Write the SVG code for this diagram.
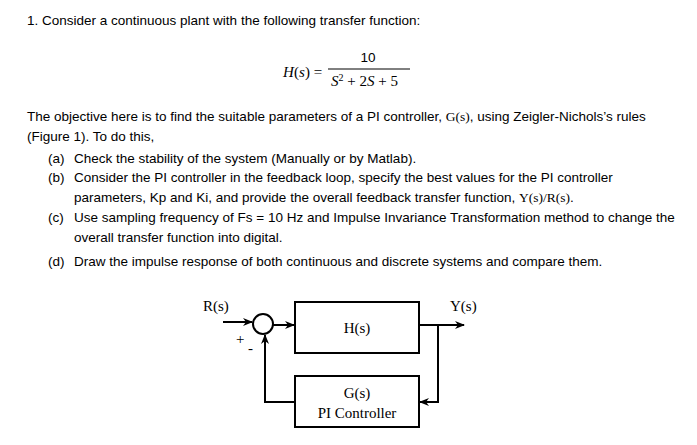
<svg xmlns="http://www.w3.org/2000/svg" width="697" height="445" viewBox="0 0 697 445">
<style>
.t{font-family:"Liberation Sans",Arial,sans-serif;font-size:13.5px;fill:#000}
.m{font-family:"Liberation Serif",serif;font-size:15px;fill:#000}
.box{fill:#fff;stroke:#000;stroke-width:2}
.ln{fill:none;stroke:#000;stroke-width:2}
</style>
<defs><marker id="a" markerWidth="10" markerHeight="8" refX="9" refY="4" orient="auto" markerUnits="userSpaceOnUse"><path d="M0,0 L10,4 L0,8 L3,4Z" fill="#000"/></marker></defs>
<rect width="697" height="445" fill="#fff"/>
<text class="t" x="27" y="25">1. Consider a continuous plant with the following transfer function:</text>
<text class="m" x="283" y="77" font-style="italic">H</text><text class="m" x="294" y="77">(</text><text class="m" x="299" y="77" font-style="italic">s</text><text class="m" x="305" y="77">) =</text>
<text class="t" x="368" y="62" text-anchor="middle">10</text>
<line x1="328" y1="69" x2="410" y2="69" stroke="#000" stroke-width="1"/>
<text class="m" x="331" y="86"><tspan font-style="italic">S</tspan><tspan font-size="10" dy="-5">2</tspan><tspan dy="5"> + 2</tspan><tspan font-style="italic">S</tspan> + 5</text>
<text class="t" x="27" y="121">The objective here is to find the suitable parameters of a PI controller, <tspan font-family="Liberation Serif">G(s)</tspan>, using Zeigler-Nichols’s rules</text>
<text class="t" x="27" y="141">(Figure 1). To do this,</text>
<text class="t" x="48" y="163">(a)</text><text class="t" x="74" y="163">Check the stability of the system (Manually or by Matlab).</text>
<text class="t" x="48" y="182">(b)</text><text class="t" x="74" y="182">Consider the PI controller in the feedback loop, specify the best values for the PI controller</text>
<text class="t" x="74" y="202">parameters, Kp and Ki, and provide the overall feedback transfer function, <tspan font-family="Liberation Serif">Y(s)/R(s)</tspan>.</text>
<text class="t" x="48" y="222">(c)</text><text class="t" x="74" y="222">Use sampling frequency of Fs = 10 Hz and Impulse Invariance Transformation method to change the</text>
<text class="t" x="74" y="242">overall transfer function into digital.</text>
<text class="t" x="48" y="266">(d)</text><text class="t" x="74" y="266">Draw the impulse response of both continuous and discrete systems and compare them.</text>
<g id="connectors">
<line class="ln" x1="223" y1="322" x2="252" y2="322" marker-end="url(#a)"/>
<line class="ln" x1="273" y1="325" x2="294" y2="325" marker-end="url(#a)"/>
<line class="ln" x1="419" y1="325" x2="464" y2="325" marker-end="url(#a)"/>
<polyline class="ln" points="438,325 438,402 420,402" marker-end="url(#a)"/>
<polyline class="ln" points="295,402 265,402 265,335" marker-end="url(#a)"/>
</g>
<g id="sum"><circle class="box" cx="263" cy="324" r="10"/></g>
<g id="H"><rect class="box" x="295" y="302" width="124" height="51"/><text class="m" x="357" y="333" text-anchor="middle" font-size="17">H(s)</text></g>
<g id="G"><rect class="box" x="295" y="376" width="124" height="51"/><text class="m" x="357" y="398" text-anchor="middle" font-size="17">G(s)</text><text class="m" x="357" y="418" text-anchor="middle" font-size="13">PI Controller</text></g>
<text class="m" x="203" y="311" font-size="17">R(s)</text>
<text class="m" x="450" y="311" font-size="17">Y(s)</text>
<text class="m" x="236" y="344" font-size="13">+</text>
<text class="m" x="248" y="353" font-size="14">-</text>
</svg>
